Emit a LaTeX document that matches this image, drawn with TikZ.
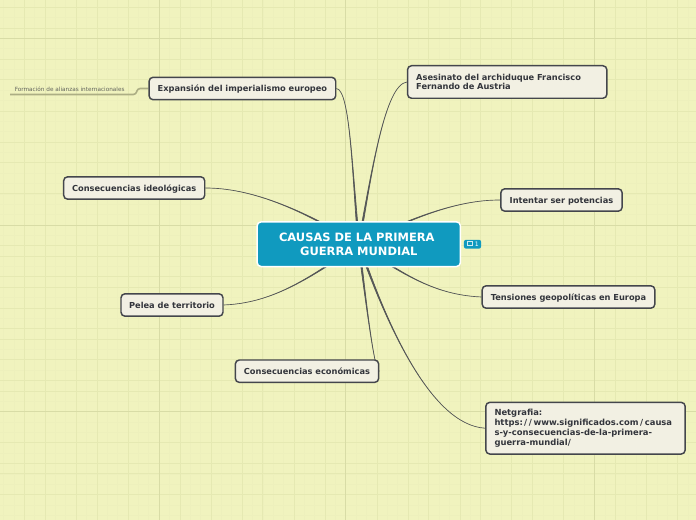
\documentclass[tikz,border=0pt]{standalone}
\usepackage{fontspec}
\setmainfont{DejaVu Sans}
\usetikzlibrary{backgrounds}
\definecolor{papel}{RGB}{240,243,190}
\definecolor{rejilla}{RGB}{237,240,188}
\definecolor{rejillab}{RGB}{229,233,178}
\definecolor{rejillac}{RGB}{216,220,166}
\definecolor{caja}{RGB}{242,240,227}
\definecolor{borde}{RGB}{68,70,76}
\definecolor{tinta}{RGB}{51,53,60}
\definecolor{azul}{RGB}{16,154,191}
\definecolor{oliva}{RGB}{172,174,132}
\tikzset{
  tema/.style={draw=borde,line width=1.1pt,fill=caja,rounded corners=3pt,text=tinta,inner sep=0pt,
    font=\fontsize{6.2pt}{7.1pt}\selectfont\bfseries},
  unalinea/.style={tema,minimum height=16.8pt,text height=6pt,text depth=1pt},
  rama/.style={draw=borde!90!papel,line width=0.5pt,fill=borde!90!papel},
  ramita/.style={draw=oliva,line width=1.2pt,rounded corners=2pt},
}
% from, first control, second control, half width at the centre
\newcommand{\rama}[5]{\draw [rama] (#1) .. controls (#2) and (#3) .. ([shift={(#4,#5)}]causas.center) -- ([shift={(-#4,-#5)}]causas.center) .. controls (#3) and (#2) .. (#1) -- cycle;}
\begin{document}
\begin{tikzpicture}[x=0.75pt,y=0.75pt,yscale=-1,xscale=1]
\useasboundingbox (0,0) rectangle (696,520);

% Text Node
\node (causas) [draw=white,line width=1.1pt,fill=azul,rounded corners=3pt,text=white,inner sep=0pt,minimum width=152.5pt,minimum height=33.5pt,align=center,font=\fontsize{8.6pt}{10.9pt}\selectfont\bfseries] at (358.8,244.2) {CAUSAS DE LA PRIMERA\kern3pt\\GUERRA MUNDIAL};
\node (comentario) [fill=azul,rounded corners=1.5pt,text=white,inner sep=0pt,minimum width=12.8pt,minimum height=6.6pt,font=\fontsize{4.6pt}{5pt}\selectfont] at (472.5,244.2) {\hspace{6.5pt}1};
\node (expansion) [unalinea,minimum width=140pt] at (242.4,88.5) {Expansión del imperialismo europeo};
\node (ideologicas) [unalinea,minimum width=105.8pt] at (134.2,188) {Consecuencias ideológicas};
\node (pelea) [unalinea,minimum width=76.5pt] at (172,305) {Pelea de territorio};
\node (economicas) [unalinea,minimum width=107.5pt] at (307,371.2) {Consecuencias económicas};
\node (asesinato) [tema,minimum height=24.4pt,text width=136.5pt,inner xsep=6.5pt,align=left] at (507.2,82) {Asesinato del archiduque Francisco\\Fernando de Austria};
\node (potencias) [unalinea,minimum width=91pt] at (561.5,200) {Intentar ser potencias};
\node (tensiones) [unalinea,minimum width=129.5pt] at (568.5,297) {Tensiones geopolíticas en Europa};
\node (netgrafia) [tema,minimum height=38.8pt,text width=136.5pt,inner xsep=6.5pt,align=left,font=\fontsize{6.3pt}{7.5pt}\selectfont\bfseries] at (585.5,428.2) {Netgrafia:\\https:\kern1pt/\kern1.2pt/\kern1.2pt www.significados.com\kern1.2pt/\kern1.2pt causa\\s-y-consecuencias-de-la-primera-\\guerra-mundial/};
\node (alianzas) [anchor=west,inner sep=0pt,text=tinta!75!papel,font=\fontsize{4.3pt}{5pt}\selectfont] at (14.5,89) {Formación de alianzas internacionales};
\coordinate (alianzasfin) at (10,94.5);

\begin{scope}[on background layer]
%Paper
\fill [papel] (0,0) rectangle (696,520);
\foreach \k in {-1,...,66} {\draw [rejilla,line width=0.55pt] ({14+10.37*\k},0) -- ({14+10.37*\k},520);}
\foreach \k in {-22,...,29} {\draw [rejilla,line width=0.55pt] (0,{225+10.37*\k}) -- (696,{225+10.37*\k});}
\foreach \k in {1,3,6,8,11,16,19,22,24,27,30,35,38,40,43,45,48,50,53,58,61,64} {\draw [rejillab,line width=0.6pt] ({14+10.37*\k},0) -- ({14+10.37*\k},520);}
\foreach \k in {-21,-19,-16,-14,-11,-8,-6,-3,2,3,5,6,8,10,11,13,15,16,21,23,24,26} {\draw [rejillab,line width=0.6pt] (0,{225+10.37*\k}) -- (696,{225+10.37*\k});}
\foreach \k in {14,32,56} {\draw [rejillac,line width=0.7pt] ({14+10.37*\k},0) -- ({14+10.37*\k},520);}
\foreach \k in {-18,0,18} {\draw [rejillac,line width=0.7pt] (0,{225+10.37*\k}) -- (696,{225+10.37*\k});}
%Curve Lines
\rama{expansion.east}{350,90}{352,170}{1}{0}
\rama{ideologicas.east}{250,188}{300,208}{0.6}{-0.8}
\rama{pelea.east}{270,303}{305,282}{0.6}{0.8}
\rama{economicas.east}{375,372}{368,320}{1}{0}
\rama{asesinato.west}{385,85}{372,170}{1}{0}
\rama{potencias.west}{470,200}{430,208}{0.6}{0.8}
\rama{tensiones.west}{440,295}{410,280}{0.6}{-0.8}
\rama{netgrafia.west}{430,425}{385,320}{1}{-0.3}
%Straight Lines
\draw [ramita] (expansion.west) -- (137.5,88.5) -- (136,94.5) -- (alianzasfin);
\end{scope}

%Shape: Comment
\draw [white!80!azul,line width=0.4pt] (467.5,241.5) rectangle (472.5,245.5);
\end{tikzpicture}
\end{document}
